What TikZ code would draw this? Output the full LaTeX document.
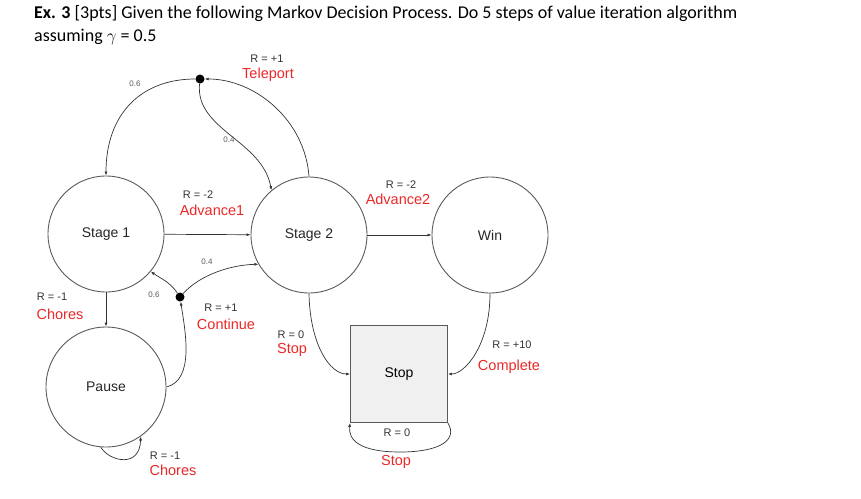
\documentclass[tikz,border=0pt]{standalone}
\usepackage{fontspec}
\setmainfont{Liberation Sans}
\newfontfamily\calib{Carlito}
\usetikzlibrary{arrows.meta}
\definecolor{rd}{RGB}{235,40,40}
\definecolor{gr}{RGB}{90,90,90}
\begin{document}
\begin{tikzpicture}[x=1pt,y=-1pt,
 st/.style={circle,draw=gr,line width=0.9pt,minimum size=116pt,inner sep=0pt,font=\fontsize{14}{16}\selectfont,text=black!85},
 ed/.style={draw=black!80,line width=0.7pt,-{Latex[length=4pt,width=3pt]}},
 dot/.style={circle,fill=black,inner sep=0pt,minimum size=9pt},
 rl/.style={font=\fontsize{11}{12}\selectfont,text=black!80,inner sep=0pt},
 al/.style={font=\fontsize{14.5}{15}\selectfont,text=rd,inner sep=0pt},
 pl/.style={font=\fontsize{8}{9}\selectfont,text=gr,inner sep=0pt}]
\useasboundingbox (0,0) rectangle (861,498);
\node[anchor=west,inner sep=0pt,font=\calib\fontsize{18}{20}\selectfont] (t1) at (34,14) {\textbf{Ex. 3} [3pts] Given the following Markov Decision Process. Do 5 steps of value iteration algorithm};
\node[anchor=west,inner sep=0pt,font=\calib\fontsize{18}{20}\selectfont] (t2) at (34,37) {assuming $\gamma$ = 0.5};
\node[st] (s1) at (106,234) {Stage 1};
\node[st] (s2) at (309,235) {Stage 2};
\node[st] (w) at (490,235) {Win};
\node[st,minimum size=120pt] (p) at (106,387) {Pause};
\node[draw=gr,fill=black!6,line width=0.9pt,minimum width=97pt,minimum height=97pt,inner sep=0pt,font=\fontsize{14}{16}\selectfont] (sb) at (399,374) {Stop};
\node[dot] (d1) at (200,79) {};
\node[dot] (d2) at (180,297) {};
\coordinate (l2) at (400,452);
\draw[ed] (s1) -- (s2);
\draw[ed] (s2) -- (w);
\draw[ed] (s1) -- (p);
\draw[ed] (s2.90) .. controls (305,120) and (255,79) .. (d1);
\draw[ed] (d1) .. controls (140,79) and (106,115) .. (s1.90);
\draw[ed] (d1) .. controls (195,130) and (262,140) .. (s2.130);
\draw[ed] (p.0) .. controls (195,380) and (185,330) .. (d2);
\draw[ed] (d2) .. controls (170,282) and (160,278) .. (s1.-40);
\draw[ed] (d2) .. controls (200,275) and (230,265) .. (s2.-150);
\draw[ed] (p.-95) .. controls (110,462) and (140,468) .. (p.-55);
\draw[ed] (s2.-90) .. controls (310,345) and (330,374) .. (sb.west);
\draw[ed] (w.-90) .. controls (490,345) and (465,374) .. (sb.east);
\draw[ed] (sb.south east) .. controls (458,440) and (440,452) .. (l2) .. controls (360,452) and (348,440) .. (sb.south west);
\node[rl] (r1) at (267,59) {R = +1};
\node[al] (a1) at (268,75) {Teleport};
\node[rl] (r2) at (198,195) {R = -2};
\node[al] (a2) at (212,210) {Advance1};
\node[rl] (r3) at (401,185) {R = -2};
\node[al] (a3) at (398,199) {Advance2};
\node[rl] (r4) at (52,297) {R = -1};
\node[al] (a4) at (60,314) {Chores};
\node[rl] (r5) at (221,308) {R = +1};
\node[al] (a5) at (226,324) {Continue};
\node[rl] (r6) at (291,335) {R = 0};
\node[al] (a6) at (292,350) {Stop};
\node[rl] (r7) at (512,345) {R = +10};
\node[al] (a7) at (509,367) {Complete};
\node[rl] (r8) at (397,433) {R = 0};
\node[al] (a8) at (396,462) {Stop};
\node[rl] (r9) at (165,456) {R = -1};
\node[al] (a9) at (173,470) {Chores};
\node[pl] (n1) at (135,84) {0.6};
\node[pl] (n2) at (229,140) {0.4};
\node[pl] (n3) at (207,262) {0.4};
\node[pl] (n4) at (154,295) {0.6};
\end{tikzpicture}
\end{document}
